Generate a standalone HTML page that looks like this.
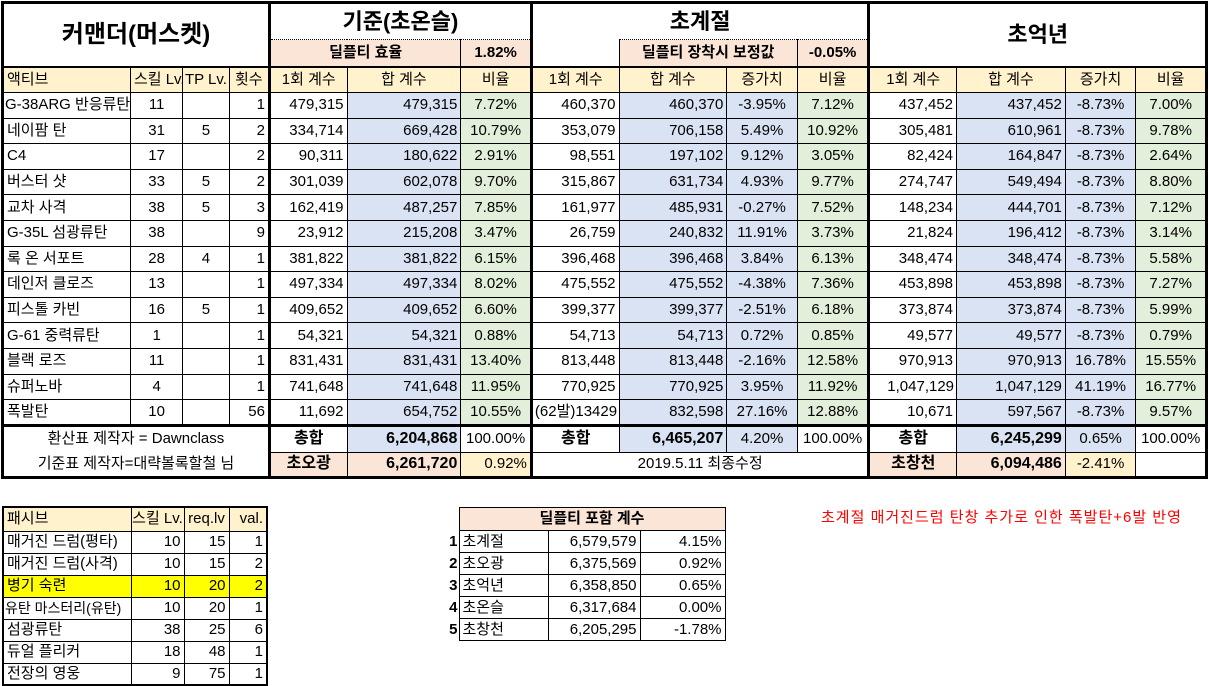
<!DOCTYPE html>
<html><head><meta charset="utf-8">
<style>
*{box-sizing:border-box;margin:0;padding:0}
body{width:1209px;height:686px;background:#fff;position:relative;overflow:hidden;font-family:"Liberation Sans","Noto Sans CJK KR",sans-serif;font-size:15px;color:#000}
table{border-collapse:collapse;table-layout:fixed;position:absolute}
td{border:1px solid #000;white-space:nowrap;overflow:hidden;padding:0 3px;line-height:18px}
.r{text-align:right}.c{text-align:center}.l{text-align:left}
.b{font-weight:bold}
.y{background:#fff2cc}.bl{background:#dae3f3}.g{background:#e2efda}.p{background:#fbe5d6}.ly{background:#fff2cc}
.tk{border-left:3px solid #000}
#main{left:1px;top:1px;border:3px solid #000}
#main tr.d td{height:25.6px}
.t{font-size:22px;font-weight:bold}
</style></head><body>
<table id="main" style="width:1207px">
<colgroup>
<col style="width:127px"><col style="width:52px"><col style="width:46px"><col style="width:40px">
<col style="width:77px"><col style="width:113px"><col style="width:70px">
<col style="width:87px"><col style="width:107px"><col style="width:70px"><col style="width:71px">
<col style="width:87px"><col style="width:108px"><col style="width:70px"><col style="width:70px">
</colgroup>
<tr style="height:37px">
<td colspan="4" rowspan="2" class="c t" style="font-size:24px">커맨더(머스켓)</td>
<td colspan="3" class="c t tk" style="border-bottom:1px dotted #000">기준(초온슬)</td>
<td colspan="4" class="c t tk" style="border-bottom:none">초계절</td>
<td colspan="4" rowspan="2" class="c t tk">초억년</td>
</tr>
<tr style="height:27px">
<td colspan="2" class="c b p tk" style="border-top:1px dotted #000;border-right:1px dotted #000">딜플티 효율</td>
<td class="c b p" style="border-top:1px dotted #000">1.82%</td>
<td class="tk" style="border-top:none;border-right:1px dotted #000"></td>
<td colspan="2" class="c b p" style="border-top:1px dotted #000;border-right:1px dotted #000">딜플티 장착시 보정값</td>
<td class="c b p" style="border-top:1px dotted #000">-0.05%</td>
</tr>
<tr style="height:26px;border-top:2px solid #000" class="y">
<td class="l y">액티브</td><td class="c y">스킬 Lv.</td><td class="c y" style="padding:0">TP Lv.</td><td class="c y">횟수</td>
<td class="c y tk">1회 계수</td><td class="c y">합 계수</td><td class="c y">비율</td>
<td class="c y tk">1회 계수</td><td class="c y">합 계수</td><td class="c y">증가치</td><td class="c y">비율</td>
<td class="c y tk">1회 계수</td><td class="c y">합 계수</td><td class="c y">증가치</td><td class="c y">비율</td>
</tr>
<tr class="d"><td style="padding:0 1px">G-38ARG 반응류탄</td><td class="c">11</td><td></td><td class="r">1</td><td class="r tk">479,315</td><td class="r bl">479,315</td><td class="c g">7.72%</td><td class="r tk">460,370</td><td class="r bl">460,370</td><td class="c bl">-3.95%</td><td class="c g">7.12%</td><td class="r tk">437,452</td><td class="r bl">437,452</td><td class="c bl">-8.73%</td><td class="c g">7.00%</td></tr>
<tr class="d"><td>네이팜 탄</td><td class="c">31</td><td class="c">5</td><td class="r">2</td><td class="r tk">334,714</td><td class="r bl">669,428</td><td class="c g">10.79%</td><td class="r tk">353,079</td><td class="r bl">706,158</td><td class="c bl">5.49%</td><td class="c g">10.92%</td><td class="r tk">305,481</td><td class="r bl">610,961</td><td class="c bl">-8.73%</td><td class="c g">9.78%</td></tr>
<tr class="d"><td>C4</td><td class="c">17</td><td></td><td class="r">2</td><td class="r tk">90,311</td><td class="r bl">180,622</td><td class="c g">2.91%</td><td class="r tk">98,551</td><td class="r bl">197,102</td><td class="c bl">9.12%</td><td class="c g">3.05%</td><td class="r tk">82,424</td><td class="r bl">164,847</td><td class="c bl">-8.73%</td><td class="c g">2.64%</td></tr>
<tr class="d"><td>버스터 샷</td><td class="c">33</td><td class="c">5</td><td class="r">2</td><td class="r tk">301,039</td><td class="r bl">602,078</td><td class="c g">9.70%</td><td class="r tk">315,867</td><td class="r bl">631,734</td><td class="c bl">4.93%</td><td class="c g">9.77%</td><td class="r tk">274,747</td><td class="r bl">549,494</td><td class="c bl">-8.73%</td><td class="c g">8.80%</td></tr>
<tr class="d"><td>교차 사격</td><td class="c">38</td><td class="c">5</td><td class="r">3</td><td class="r tk">162,419</td><td class="r bl">487,257</td><td class="c g">7.85%</td><td class="r tk">161,977</td><td class="r bl">485,931</td><td class="c bl">-0.27%</td><td class="c g">7.52%</td><td class="r tk">148,234</td><td class="r bl">444,701</td><td class="c bl">-8.73%</td><td class="c g">7.12%</td></tr>
<tr class="d"><td>G-35L 섬광류탄</td><td class="c">38</td><td></td><td class="r">9</td><td class="r tk">23,912</td><td class="r bl">215,208</td><td class="c g">3.47%</td><td class="r tk">26,759</td><td class="r bl">240,832</td><td class="c bl">11.91%</td><td class="c g">3.73%</td><td class="r tk">21,824</td><td class="r bl">196,412</td><td class="c bl">-8.73%</td><td class="c g">3.14%</td></tr>
<tr class="d"><td>록 온 서포트</td><td class="c">28</td><td class="c">4</td><td class="r">1</td><td class="r tk">381,822</td><td class="r bl">381,822</td><td class="c g">6.15%</td><td class="r tk">396,468</td><td class="r bl">396,468</td><td class="c bl">3.84%</td><td class="c g">6.13%</td><td class="r tk">348,474</td><td class="r bl">348,474</td><td class="c bl">-8.73%</td><td class="c g">5.58%</td></tr>
<tr class="d"><td>데인저 클로즈</td><td class="c">13</td><td></td><td class="r">1</td><td class="r tk">497,334</td><td class="r bl">497,334</td><td class="c g">8.02%</td><td class="r tk">475,552</td><td class="r bl">475,552</td><td class="c bl">-4.38%</td><td class="c g">7.36%</td><td class="r tk">453,898</td><td class="r bl">453,898</td><td class="c bl">-8.73%</td><td class="c g">7.27%</td></tr>
<tr class="d"><td>피스톨 카빈</td><td class="c">16</td><td class="c">5</td><td class="r">1</td><td class="r tk">409,652</td><td class="r bl">409,652</td><td class="c g">6.60%</td><td class="r tk">399,377</td><td class="r bl">399,377</td><td class="c bl">-2.51%</td><td class="c g">6.18%</td><td class="r tk">373,874</td><td class="r bl">373,874</td><td class="c bl">-8.73%</td><td class="c g">5.99%</td></tr>
<tr class="d"><td>G-61 중력류탄</td><td class="c">1</td><td></td><td class="r">1</td><td class="r tk">54,321</td><td class="r bl">54,321</td><td class="c g">0.88%</td><td class="r tk">54,713</td><td class="r bl">54,713</td><td class="c bl">0.72%</td><td class="c g">0.85%</td><td class="r tk">49,577</td><td class="r bl">49,577</td><td class="c bl">-8.73%</td><td class="c g">0.79%</td></tr>
<tr class="d"><td>블랙 로즈</td><td class="c">11</td><td></td><td class="r">1</td><td class="r tk">831,431</td><td class="r bl">831,431</td><td class="c g">13.40%</td><td class="r tk">813,448</td><td class="r bl">813,448</td><td class="c bl">-2.16%</td><td class="c g">12.58%</td><td class="r tk">970,913</td><td class="r bl">970,913</td><td class="c bl">16.78%</td><td class="c g">15.55%</td></tr>
<tr class="d"><td>슈퍼노바</td><td class="c">4</td><td></td><td class="r">1</td><td class="r tk">741,648</td><td class="r bl">741,648</td><td class="c g">11.95%</td><td class="r tk">770,925</td><td class="r bl">770,925</td><td class="c bl">3.95%</td><td class="c g">11.92%</td><td class="r tk" style="padding:0 2px">1,047,129</td><td class="r bl">1,047,129</td><td class="c bl">41.19%</td><td class="c g">16.77%</td></tr>
<tr class="d"><td>폭발탄</td><td class="c">10</td><td></td><td class="r">56</td><td class="r tk">11,692</td><td class="r bl">654,752</td><td class="c g">10.55%</td><td class="l tk" style="padding:0 2px">(62발)13429</td><td class="r bl">832,598</td><td class="c bl">27.16%</td><td class="c g">12.88%</td><td class="r tk">10,671</td><td class="r bl">597,567</td><td class="c bl">-8.73%</td><td class="c g">9.57%</td></tr>
<tr style="height:27px;border-top:3px solid #000">
<td colspan="4" class="c" style="border-bottom:none">환산표 제작자 = Dawnclass</td>
<td class="c b tk" style="font-size:16px">총합</td><td class="r b bl" style="font-size:16px">6,204,868</td><td class="c">100.00%</td>
<td class="c b tk" style="font-size:16px">총합</td><td class="r b bl" style="font-size:16px">6,465,207</td><td class="c bl">4.20%</td><td class="c">100.00%</td>
<td class="c b tk" style="font-size:16px">총합</td><td class="r b bl" style="font-size:16px">6,245,299</td><td class="c bl">0.65%</td><td class="c">100.00%</td>
</tr>
<tr style="height:25px">
<td colspan="4" class="c" style="border-top:none">기준표 제작자=대략볼록할철 님</td>
<td class="c b p tk" style="font-size:16px">초오광</td><td class="r b p" style="font-size:16px">6,261,720</td><td class="r ly">0.92%</td>
<td colspan="4" class="c tk">2019.5.11 최종수정</td>
<td class="c b p tk" style="font-size:16px">초창천</td><td class="r b p" style="font-size:16px">6,094,486</td><td class="c ly">-2.41%</td><td></td>
</tr>
</table>

<table style="left:2px;top:506px;width:266px;border:2px solid #000">
<colgroup><col style="width:128px"><col style="width:53px"><col style="width:45px"><col style="width:38px"></colgroup>
<tr style="height:24px" class="y"><td class="y">패시브</td><td class="c y" style="padding:0">스킬 Lv.</td><td class="c y" style="padding:0">req.lv</td><td class="r y">val.</td></tr>
<tr style="height:22px"><td>매거진 드럼(평타)</td><td class="r">10</td><td class="r">15</td><td class="r">1</td></tr>
<tr style="height:22px"><td>매거진 드럼(사격)</td><td class="r">10</td><td class="r">15</td><td class="r">2</td></tr>
<tr style="height:22px;background:#ffff00"><td>병기 숙련</td><td class="r">10</td><td class="r">20</td><td class="r">2</td></tr>
<tr style="height:22px"><td style="font-size:14px;padding:0 1px">유탄 마스터리(유탄)</td><td class="r">10</td><td class="r">20</td><td class="r">1</td></tr>
<tr style="height:22px"><td>섬광류탄</td><td class="r">38</td><td class="r">25</td><td class="r">6</td></tr>
<tr style="height:22px"><td>듀얼 플리커</td><td class="r">18</td><td class="r">48</td><td class="r">1</td></tr>
<tr style="height:22px"><td>전장의 영웅</td><td class="r">9</td><td class="r">75</td><td class="r">1</td></tr>
</table>

<table style="left:445px;top:507px;width:280px">
<colgroup><col style="width:14px"><col style="width:89px"><col style="width:92px"><col style="width:85px"></colgroup>
<tr style="height:23px"><td style="border:none"></td><td colspan="3" class="c b p">딜플티 포함 계수</td></tr>
<tr style="height:22px"><td class="b r" style="border:none;padding:0 1px">1</td><td>초계절</td><td class="r">6,579,579</td><td class="r">4.15%</td></tr>
<tr style="height:22px"><td class="b r" style="border:none;padding:0 1px">2</td><td>초오광</td><td class="r">6,375,569</td><td class="r">0.92%</td></tr>
<tr style="height:22px"><td class="b r" style="border:none;padding:0 1px">3</td><td>초억년</td><td class="r">6,358,850</td><td class="r">0.65%</td></tr>
<tr style="height:22px"><td class="b r" style="border:none;padding:0 1px">4</td><td>초온슬</td><td class="r">6,317,684</td><td class="r">0.00%</td></tr>
<tr style="height:22px"><td class="b r" style="border:none;padding:0 1px">5</td><td>초창천</td><td class="r">6,205,295</td><td class="r">-1.78%</td></tr>
</table>

<div style="position:absolute;left:821px;top:508px;color:#ff0000;white-space:nowrap;line-height:20px;letter-spacing:1px">초계절 매거진드럼 탄창 추가로 인한 폭발탄+6발 반영</div>
</body></html>
